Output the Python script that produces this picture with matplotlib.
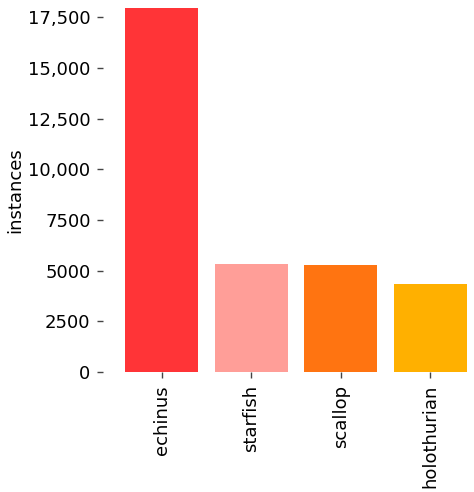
import matplotlib

matplotlib.use("Agg")
import matplotlib.pyplot as plt
from matplotlib.ticker import FuncFormatter

categories = ["echinus", "starfish", "scallop", "holothurian"]
instances = [17950, 5350, 5290, 4360]
colors = ["#ff3437", "#ff9e98", "#ff7411", "#ffb000"]
y_ticks = [0, 2500, 5000, 7500, 10000, 12500, 15000, 17500]


def fmt(v, _pos):
    return f"{v:,.0f}" if v >= 10000 else f"{v:.0f}"


fig = plt.figure(figsize=(4.74, 4.92), dpi=100)
ax = fig.add_axes([125 / 474, 1 - 372 / 492, 342 / 474, 364 / 492])
ax.bar(range(len(categories)), instances, width=0.82, color=colors)
ax.set_xlim(-0.41, len(categories) - 0.59)
ax.set_ylim(0, max(instances))
ax.set_xticks(range(len(categories)))
ax.set_xticklabels(categories, rotation=90, fontsize=13)
ax.set_yticks(y_ticks)
ax.yaxis.set_major_formatter(FuncFormatter(fmt))
ax.spines["left"].set_position(("outward", 15.5))
ax.tick_params(axis="y", labelsize=13, length=4.3, width=1, color="#444444", pad=5)
ax.tick_params(axis="x", length=4.3, width=1, color="#444444", pad=5)
for s in ax.spines.values():
    s.set_visible(False)
fig.text(15 / 474, 1 - 190 / 492, "instances", rotation=90, fontsize=13,
         ha="center", va="center")

fig.savefig("out.png", dpi=100)
